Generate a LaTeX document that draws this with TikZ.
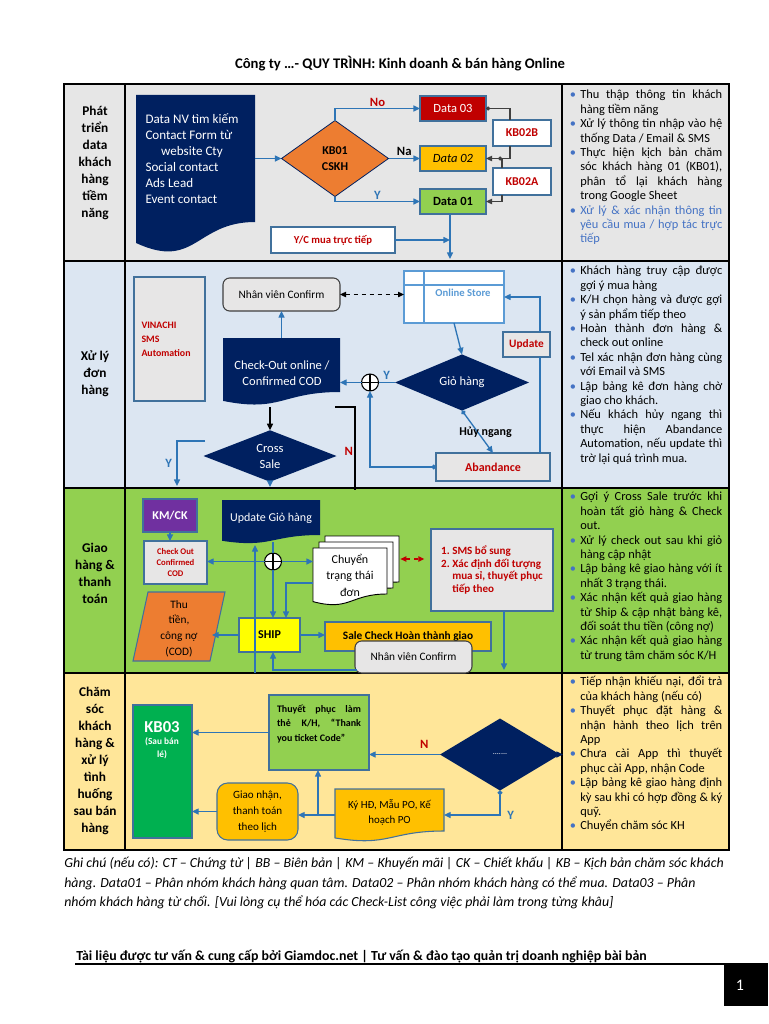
\documentclass[tikz,border=0pt]{standalone}
\usepackage{fontspec}
\setmainfont{Carlito}
\usetikzlibrary{arrows.meta,shapes.geometric,calc}

\newlength\pxl \setlength\pxl{0.75pt}
\tolerance=10000 \hyphenpenalty=10000
\definecolor{navy}{HTML}{002060}
\definecolor{lineblue}{HTML}{2E75B6}
\definecolor{bordblue}{HTML}{41719C}
\definecolor{boxgray}{HTML}{E7E6E6}
\definecolor{rowgray}{HTML}{E6E6E6}
\definecolor{rowblue}{HTML}{DCE6F2}
\definecolor{rowgreen}{HTML}{92D050}
\definecolor{rowyellow}{HTML}{FFE699}
\definecolor{darkred}{HTML}{C00000}
\definecolor{orangeb}{HTML}{ED7D31}
\definecolor{goldb}{HTML}{FFC000}
\definecolor{greenb}{HTML}{92D050}
\definecolor{kbgreen}{HTML}{00B050}
\definecolor{purpleb}{HTML}{7030A0}
\definecolor{yellowb}{HTML}{FFFF00}
\definecolor{bulblue}{HTML}{4472C4}
\definecolor{storeblue}{HTML}{5B9BD5}

% bullet in the right column
\newcommand\bul{\leavevmode\llap{\textcolor{bulblue}{\textbullet}\hspace{3.2pt}}}
% flowchart "document" outline round a node
\newcommand\docpath[2]{\path[#2] (#1.north west) -- (#1.north east) -- (#1.south east)
  .. controls (#1.south) and ($(#1.north)!1.382!(#1.south)$) .. ($(#1.north west)!1.165!(#1.south west)$) -- cycle;}

\begin{document}
\begin{tikzpicture}[x=0.75pt, y=-0.75pt, >=Stealth,
    box/.style={inner sep=0pt, outer sep=0pt},
    sz/.style 2 args={minimum width=#1\pxl, minimum height=#2\pxl},
    lane/.style={font=\bfseries\fontsize{10}{12.75}\selectfont, align=center},
    bullist/.style={anchor=north west, inner sep=0pt, text width=142\pxl, align=justify,
      font=\fontsize{9.3}{10.8}\selectfont},
    txt/.style={font=\fontsize{9.4}{12}\selectfont, align=center},
    bluebox/.style={box, draw=bordblue, line width=0.8pt},
    flow/.style={draw=lineblue, line width=1pt, -{Triangle[length=5pt,width=4.5pt]}},
    flowline/.style={draw=lineblue, line width=1pt},
    dotflow/.style={draw=lineblue, line width=1pt, {Circle[length=3.5pt]}-{Triangle[length=5pt,width=4.5pt]}},
    kbline/.style={draw=darkgray, line width=0.9pt},
    ylab/.style={font=\bfseries\fontsize{9.5}{11}\selectfont, text=lineblue},
    nlab/.style={font=\bfseries\fontsize{9.5}{11}\selectfont, text=darkred}]
    \useasboundingbox (0,0) rectangle (768,1024);
    \fill[white] (0,0) rectangle (768,1024);

    % Tieu de
    \node[font=\bfseries\fontsize{11}{13}\selectfont] (title) at (400,64)
      {Công ty …- QUY TRÌNH: Kinh doanh \& bán hàng Online};

    % Nen cac hang va luoi bang
    \fill[rowgray] (64,84) rectangle (729,261);
    \fill[rowblue] (64,261) rectangle (729,488);
    \fill[rowgreen] (64,488) rectangle (729,673);
    \fill[rowyellow] (64,673) rectangle (729,850);
    \draw[line width=1.2pt] (64,84) rectangle (729,850);
    \draw[line width=1pt] (125,84) -- (125,850) (562,84) -- (562,850);
    \draw[line width=1pt] (64,261) -- (729,261) (64,488) -- (729,488) (64,673) -- (729,673);

    % Cot ten buoc
    \node[lane] (lane1) at (95,163) {Phát\\triển\\data\\khách\\hàng\\tiềm\\năng};
    \node[lane] (lane2) at (95,374) {Xử lý\\đơn\\hàng};
    \node[lane] (lane3) at (95,573) {Giao\\hàng \&\\thanh\\toán};
    \node[lane] (lane4) at (95,761) {Chăm\\sóc\\khách\\hàng \&\\xử lý\\tình\\huống\\sau bán\\hàng};

    % Cot ghi chu
    \node[bullist] (note1) at (580,90) {%
      \bul Thu thập thông tin khách\linebreak hàng tiềm năng\par
      \bul Xử lý thông tin nhập vào hệ\linebreak thống Data / Email \& SMS\par
      \bul Thực hiện kịch bản chăm\linebreak sóc khách hàng 01 (KB01),\linebreak phân tổ lại khách hàng\linebreak trong Google Sheet\par
      {\color{bulblue}\bul Xử lý \& xác nhận thông tin\linebreak yêu cầu mua / hợp tác trực\linebreak tiếp\par}};
    \node[bullist] (note2) at (580,266) {%
      \bul Khách hàng truy cập được\linebreak gợi ý mua hàng\par
      \bul K/H chọn hàng và được gợi\linebreak ý sản phẩm tiếp theo\par
      \bul Hoàn thành đơn hàng \&\linebreak check out online\par
      \bul Tel xác nhận đơn hàng cùng\linebreak với Email và SMS\par
      \bul Lập bảng kê đơn hàng chờ\linebreak giao cho khách.\par
      \bul Nếu khách hủy ngang thì\linebreak thực hiện Abandance\linebreak Automation, nếu update thì\linebreak trờ lại quá trình mua.\par};
    \node[bullist] (note3) at (580,492) {%
      \bul Gợi ý Cross Sale trước khi\linebreak hoàn tất giỏ hàng \& Check\linebreak out.\par
      \bul Xử lý check out sau khi giỏ\linebreak hàng cập nhật\par
      \bul Lập bảng kê giao hàng với ít\linebreak nhất 3 trạng thái.\par
      \bul Xác nhận kết quả giao hàng\linebreak từ Ship \& cập nhật bảng kê,\linebreak đối soát thu tiền (công nợ)\par
      \bul Xác nhận kết quả giao hàng\linebreak từ trung tâm chăm sóc K/H\par};
    \node[bullist] (note4) at (580,676) {%
      \bul Tiếp nhận khiếu nại, đổi trả\linebreak của khách hàng (nếu có)\par
      \bul Thuyết phục đặt hàng \&\linebreak nhận hành theo lịch trên\linebreak App\par
      \bul Chưa cài App thì thuyết\linebreak phục cài App, nhận Code\par
      \bul Lập bảng kê giao hàng định\linebreak kỳ sau khi có hợp đồng \& ký\linebreak quỹ.\par
      \bul Chuyển chăm sóc KH\par};

    % 1. Phat trien data
    \node[box, sz={119}{127}] (src) at (195.5,158.5) {};
    \docpath{src}{fill=navy}
    \node[txt, align=left, text=white, font=\fontsize{9.8}{12}\selectfont] (srctxt) at (192,159)
      {Data NV tìm kiếm\\Contact Form từ\\\hspace{1.2em}website Cty\\Social contact\\Ads Lead\\Event contact};
    \node[diamond, box, sz={107}{76}, fill=orangeb, draw=navy, line width=0.6pt,
      txt, font=\bfseries\fontsize{9}{12}\selectfont] (kb01) at (335,158.5) {KB01\\CSKH};
    \node[bluebox, sz={66}{25}, fill=darkred, text=white, txt] (d03) at (453,108.5) {Data 03};
    \node[bluebox, sz={66}{25}, fill=goldb, txt, font=\itshape\fontsize{9.4}{12}\selectfont] (d02) at (453,158.5) {Data 02};
    \node[bluebox, sz={66}{25}, fill=greenb, txt, font=\bfseries\fontsize{9.4}{12}\selectfont] (d01) at (453,201.5) {Data 01};
    \node[bluebox, sz={58}{26}, fill=white, text=darkred, font=\bfseries\fontsize{9}{11}\selectfont] (kb02b) at (522,133) {KB02B};
    \node[bluebox, sz={58}{27}, fill=white, text=darkred, font=\bfseries\fontsize{9}{11}\selectfont] (kb02a) at (522,181.5) {KB02A};
    \node[bluebox, sz={124}{26}, fill=white, text=darkred, font=\bfseries\fontsize{8}{10}\selectfont] (yc) at (333,240) {Y/C mua trực tiếp};
    \coordinate (kbx) at (510,0);
    \coordinate (kbj) at (502,158.5);
    \coordinate (s1out) at (450,259);

    \draw[flow] (src.east) -- (kb01.west);
    \draw[flow] (kb01.north) |- (d03.west) node[pos=0.75, above, nlab, inner sep=1pt] {No};
    \draw[flow] (kb01.east) -- (d02.west) node[midway, above, font=\bfseries\fontsize{9.5}{11}\selectfont, inner sep=2pt] {Na};
    \draw[flow] (kb01.south) |- (d01.west) node[pos=0.75, above, ylab, inner sep=1pt] {Y};
    \draw[kbline, {Circle[length=3pt]}-] (d03.east) -| (kb02b.north -| kbx);
    \draw[kbline] (kb02b.south -| kbx) |- (kbj);
    \draw[kbline, {Circle[length=3pt]}-{Triangle[length=4.5pt,width=4pt]}] (kbj) -- (d02.east);
    \draw[kbline] (kbj) -- (kb02a.north -| kbj);
    \draw[kbline, -{Triangle[length=4.5pt,width=4pt]}] (kb02a.south -| kbj) |- (d01.east);
    \draw[flow] (d01.south -| s1out) -- (s1out);
    \draw[flow] (yc.east) -- (yc.east -| s1out);

    % 2. Xu ly don hang
    \node[bluebox, sz={71}{124}, fill=boxgray, text=darkred, font=\bfseries\fontsize{7.4}{10.5}\selectfont,
      align=left, text width=56\pxl] (vin) at (169.5,339) {VINACHI\\SMS\\Automation};
    \node[box, sz={117}{33}, rounded corners=5pt, fill=boxgray, draw=darkgray, line width=0.8pt,
      font=\fontsize{8.5}{10}\selectfont] (nvc1) at (281.5,294.5) {Nhân viên Confirm};
    \node[box, sz={100}{52}, fill=white, draw=storeblue, line width=2pt] (store) at (454,297) {};
    \draw[storeblue, line width=2pt] ($(store.north west)+(20,0)$) -- ($(store.south west)+(20,0)$);
    \draw[storeblue, line width=2pt] ($(store.north west)+(0,14)$) -- ($(store.north east)+(0,14)$);
    \node[text=storeblue, font=\bfseries\fontsize{8}{10}\selectfont] (storetxt) at (463,293) {Online Store};
    \node[box, sz={117}{54}] (checkout) at (281.5,365) {};
    \docpath{checkout}{fill=navy}
    \node[txt, text=white] (cotxt) at (282,373) {Check-Out online /\\Confirmed COD};
    \node[diamond, box, sz={134}{51}, fill=navy, text=white, txt] (gio) at (462,382.5) {Giỏ hàng};
    \node[circle, box, minimum size=17\pxl, fill=white, draw=black, line width=0.8pt] (cp1) at (370,382.5) {};
    \draw[line width=0.8pt] (cp1.north) -- (cp1.south) (cp1.west) -- (cp1.east);
    \node[bluebox, sz={114}{28}, fill=boxgray, text=darkred, font=\bfseries\fontsize{9}{11}\selectfont] (aband) at (493,467) {Abandance};
    \node[bluebox, sz={47}{25}, fill=boxgray, text=darkred, font=\bfseries\fontsize{8.5}{10}\selectfont] (upd) at (526.5,344.5) {Update};
    \node[diamond, box, sz={133}{51}, fill=navy, text=white, txt] (cross) at (270,456) {Cross\\Sale};
    \coordinate (upx) at (540,0);
    \coordinate (cobot) at (270,407);
    \coordinate (crossYs) at (205,441);
    \coordinate (crossY) at (177,486);
    \coordinate (crossB) at (270,487);
    \coordinate (nA) at (335,407);
    \coordinate (nB) at (355,490);

    \draw[flow] (checkout.north) -- (nvc1.south);
    \draw[line width=0.9pt, dashed, {Triangle[length=4.5pt,width=4pt]}-{Triangle[length=4.5pt,width=4pt]}]
      (nvc1.east) -- (nvc1.east -| store.west);
    \draw[flow] (store.south) -- (gio.north);
    \draw[flowline] (gio.west) -- (cp1.east) node[midway, above, ylab, inner sep=2pt] {Y};
    \draw[flow] (cp1.west) -- (cp1.west -| checkout.east);
    \draw[dotflow] (gio.south) -- (aband.north)
      node[midway, xshift=8\pxl, font=\bfseries\fontsize{9}{11}\selectfont] {Hủy ngang};
    \draw[dotflow] (aband.west) -| (cp1.south);
    \draw[flowline] (aband.north -| upx) -- (upd.south -| upx);
    \draw[flow] (upd.north -| upx) |- (store.east);
    \draw[line width=1pt, -{Triangle[length=5pt,width=4.5pt]}] (cobot) -- (cross.north);
    \draw[flow] (crossYs) -| (crossY) node[pos=0.75, left, ylab] {Y};
    \draw[flow] (cross.south) -- (crossB);
    \draw[line width=1pt] (nA) -| (nB) node[pos=0.77, left, nlab, inner sep=1pt] {N};

    % 3. Giao hang & thanh toan
    \node[bluebox, sz={54}{33}, fill=purpleb, text=white, font=\bfseries\fontsize{9}{11}\selectfont] (kmck) at (170,515.5) {KM/CK};
    \node[bluebox, sz={63}{43}, fill=boxgray, text=darkred, align=center,
      font=\bfseries\fontsize{6.5}{8.2}\selectfont] (coc) at (175.5,562.5) {Check Out\\Confirmed\\COD};
    \node[box, sz={98}{35}] (upd2) at (271,517.5) {};
    \docpath{upd2}{fill=navy}
    \node[txt, text=white, font=\fontsize{9}{12}\selectfont] (upd2txt) at (271,518) {Update Giỏ hàng};
    \node[circle, box, minimum size=17\pxl, fill=white, draw=black, line width=0.8pt] (cp2) at (273,561.5) {};
    \draw[line width=0.8pt] (cp2.north) -- (cp2.south) (cp2.west) -- (cp2.east);
    \node[box, sz={74}{46}] (chuyenB) at (362,559) {};
    \docpath{chuyenB}{fill=white, draw=black, line width=0.7pt}
    \node[box, sz={74}{46}] (chuyenM) at (356,565) {};
    \docpath{chuyenM}{fill=white, draw=black, line width=0.7pt}
    \node[box, sz={74}{46}] (chuyen) at (350,571) {};
    \docpath{chuyen}{fill=white, draw=black, line width=0.7pt}
    \node[txt, font=\fontsize{9}{12.3}\selectfont] (chtxt) at (350,575) {Chuyển\\trạng thái\\đơn};
    \node[bluebox, sz={122}{82}, fill=boxgray, text=darkred, align=left,
      font=\bfseries\fontsize{8.3}{9.6}\selectfont] (sms) at (492,570)
      {1.\ SMS bổ sung\\2.\ Xác định đối tượng\\\phantom{2.\ }mua sỉ, thuyết phục\\\phantom{2.\ }tiếp theo};
    \node[bluebox, sz={61}{34}, fill=yellowb, font=\bfseries\fontsize{9}{11}\selectfont] (ship) at (269.5,635) {SHIP};
    \node[box, sz={92}{69}] (thu) at (179,626.5) {};
    \path[fill=orangeb, draw=bordblue, line width=0.8pt] (thu.south west) -- ($(thu.north west)+(15,0)$)
      -- (thu.north east) -- ($(thu.south east)+(-15,0)$) -- cycle;
    \node[txt, font=\fontsize{8.5}{11.8}\selectfont] (thutxt) at (179,628.5) {Thu\\tiền,\\công nợ\\(COD)};
    \node[bluebox, sz={166}{29}, fill=goldb, font=\bfseries\fontsize{8.5}{10}\selectfont] (sale) at (408,636.5) {Sale Check Hoàn thành giao};
    \node[box, sz={117}{32}, rounded corners=5pt, fill=boxgray, draw=darkgray, line width=0.8pt,
      font=\fontsize{8.5}{10}\selectfont] (nvc2) at (413.5,657) {Nhân viên Confirm};
    \coordinate (u2b) at (273,542);
    \coordinate (v255b) at (255,673);
    \coordinate (v255t) at (255,545);
    \coordinate (chL) at (313,583);
    \coordinate (shipR) at (286,0);
    \coordinate (thuR) at (212,0);
    \coordinate (smsdown) at (504,670);
    \coordinate (nvcL) at (357,670);

    \draw[flow] (kmck.south) -- (kmck.south |- coc.north);
    \draw[flowline] (u2b) -- (cp2.north);
    \draw[flow] (cp2.south) -- (cp2.south |- ship.north);
    \draw[flow] (cp2.west) -- (cp2.west -| coc.east);
    \draw[flow] (cp2.east) -- (cp2.east -| chuyen.west);
    \draw[flow] (v255b) -- (v255t);
    \draw[flow] (chL) -| (ship.north -| shipR);
    \draw[draw=darkred, line width=0.9pt, dashed, shorten <=1pt, shorten >=5pt,
      {Triangle[length=4.5pt,width=4pt]}-{Triangle[length=4.5pt,width=4pt]}] (chuyenB.east) -- (chuyenB.east -| sms.west);
    \draw[flow] (sms.south -| smsdown) -- (smsdown);
    \draw[flow] (ship.west) -- (ship.west -| thuR);
    \draw[flow] (ship.east) -- (ship.east -| sale.west);
    \draw[flow] (nvcL) -| (cp2 |- ship.south);

    % 4. Cham soc khach hang
    \node[bluebox, sz={59}{133}, fill=kbgreen] (kb03) at (162.5,771.5) {};
    \node[text=white, align=center, font=\bfseries\fontsize{7}{9.5}\selectfont] (kb03txt) at (162,740)
      {{\fontsize{12.5}{14}\selectfont KB03}\\(Sau bán\\lé)};
    \node[box, sz={100}{75}, fill=greenb, draw=bordblue, line width=1.2pt] (tp) at (319,732.5) {};
    \node[text width=84\pxl, align=justify, font=\bfseries\fontsize{7.5}{11.2}\selectfont] (tptxt) at (319,724)
      {Thuyết phục làm\linebreak thẻ K/H, “Thank\linebreak you ticket Code”};
    \node[diamond, box, sz={120}{72}, fill=navy, text=white, font=\fontsize{6}{7}\selectfont] (dia4) at (500,754.5) {.......};
    \node[box, sz={109}{42}] (kyhd) at (389.5,810) {};
    \docpath{kyhd}{fill=goldb, draw=bordblue, line width=0.8pt}
    \node[txt, font=\fontsize{8.2}{11.2}\selectfont] (kytxt) at (389.5,812.5) {Ký HĐ, Mẫu PO, Kế\\hoạch PO};
    \node[box, sz={81}{57}, rounded corners=8pt, fill=goldb, draw=bordblue, line width=0.8pt,
      txt, font=\fontsize{8.3}{12}\selectfont] (gn) at (257.5,811.5) {Giao nhận,\\thanh toán\\theo lịch};
    \coordinate (dia4R) at (563,754.5);
    \coordinate (kyR) at (444,815);
    \coordinate (kyL) at (335,815);
    \coordinate (tpJ) at (318,815);

    \draw[navy, line width=1pt, -{Triangle[length=5pt,width=4.5pt]}] (dia4.east) -- (dia4R);
    \draw[flow] (tp.west) -- (tp.west -| kb03.east);
    \draw[flow] (dia4.west) -- (dia4.west -| tp.east) node[pos=0.22, above, nlab, inner sep=4pt] {N};
    \draw[dotflow] (dia4.south) |- (kyR) node[pos=0.5, right, ylab, inner sep=5pt] {Y};
    \draw[flow] (kyL) -- (kyL -| gn.east);
    \draw[flow] (tpJ) -- (tpJ |- tp.south);
    \draw[flow] (gn.west) -- (gn.west -| kb03.east);

    % Ghi chu cuoi trang
    \node[anchor=north west, inner sep=0pt, align=left, font=\itshape\fontsize{10.4}{14.6}\selectfont] (gc) at (64,857)
      {Ghi chú (nếu có): CT – Chứng từ | BB – Biên bản | KM – Khuyến mãi | CK – Chiết khấu | KB – Kịch bản chăm sóc khách\\
       hàng. Data01 – Phân nhóm khách hàng quan tâm. Data02 – Phân nhóm khách hàng có thể mua. Data03 – Phân\\
       nhóm khách hàng từ chối. [Vui lòng cụ thể hóa các Check-List công việc phải làm trong từng khâu]};
    \node[anchor=base west, inner sep=0pt, font=\bfseries\fontsize{10.4}{12}\selectfont] (foot) at (76,960)
      {Tài liệu được tư vấn \& cung cấp bởi Giamdoc.net | Tư vấn \& đào tạo quản trị doanh nghiệp bài bản};
    \draw[line width=1.2pt] (75,964) -- (768,964);
    \fill[black] (724,964) rectangle (768,1006);
    \node[text=white, font=\fontsize{12}{14}\selectfont] (pg) at (740,985) {1};
\end{tikzpicture}
\end{document}
